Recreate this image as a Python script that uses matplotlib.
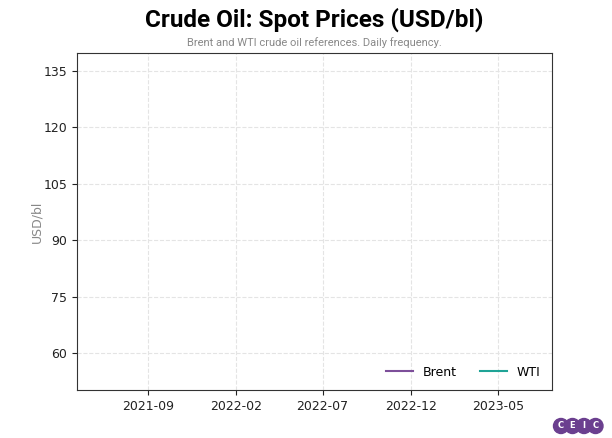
import pandas as pd
import matplotlib
matplotlib.use("Agg")
import matplotlib.pyplot as plt
import matplotlib.dates as mdates
from matplotlib.patches import Circle

# series as shown in the picture (no points are visible in the reference)
brent_dates = []
brent_values = []
wti_dates = []
wti_values = []

tick_dates = ["2021-09-01", "2022-02-01", "2022-07-01", "2022-12-01", "2023-05-01"]
y_ticks = [60, 75, 90, 105, 120, 135]

fig = plt.figure(figsize=(6.12, 4.38), dpi=100)
ax = fig.add_axes([77/612, 1 - 390/438, (552-77)/612, (390-53)/438])

ax.plot(pd.to_datetime(brent_dates), brent_values, color="#7d4f9a", lw=1.5, label="Brent")
ax.plot(pd.to_datetime(wti_dates), wti_values, color="#1fa396", lw=1.5, label="WTI")

ax.set_xlim(pd.Timestamp("2021-05-01"), pd.Timestamp("2023-08-03"))
ax.set_ylim(50.2, 139.8)
ax.set_xticks(pd.to_datetime(tick_dates))
ax.xaxis.set_major_formatter(mdates.DateFormatter("%Y-%m"))
ax.set_yticks(y_ticks)
ax.tick_params(labelsize=9, colors="#222222")
ax.grid(True, ls="--", color="#e4e4e4", lw=0.8)
for s in ax.spines.values():
    s.set_color("#333333")

ax.set_ylabel("USD/bl", color="#888888", fontsize=9, labelpad=0)
ax.legend(loc="lower right", ncol=2, frameon=False, fontsize=9, handlelength=2.2,
          columnspacing=1.8, bbox_to_anchor=(1.0, 0.0))

fig.text(314/612, 1 - 20/438, "Crude Oil: Spot Prices (USD/bl)", ha="center", va="center",
         fontsize=17.5, fontweight="bold", family="Roboto")
fig.text(314/612, 1 - 43/438, "Brent and WTI crude oil references. Daily frequency.", ha="center",
         va="center", fontsize=8, color="#888888", family="Roboto")

# CEIC logo
for i, ch in enumerate("CEIC"):
    cx = 561 + i * 11.5
    c = Circle((cx, 438 - 426), 7.5, transform=None, color="#6b3f8f", zorder=5)
    fig.add_artist(c)
for i, ch in enumerate("CEIC"):
    cx = 561 + i * 11.5
    fig.text(cx/612, 12/438, ch, ha="center", va="center", fontsize=6, color="white",
             fontweight="bold", zorder=6)

fig.savefig("out.png", dpi=100)
